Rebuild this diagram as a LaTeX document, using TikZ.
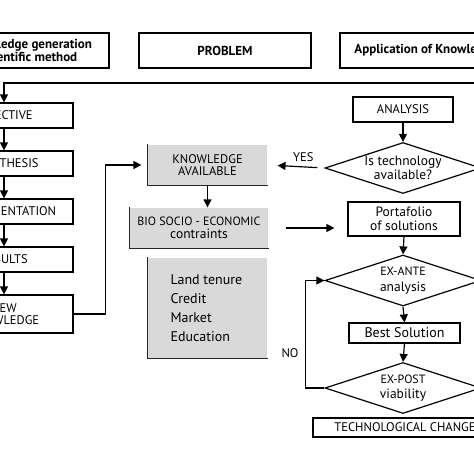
\documentclass[tikz,border=0pt]{standalone}
\usepackage{fontspec}
\setmainfont{PT Sans}
\usetikzlibrary{shapes.geometric,arrows.meta}

\tikzset{
    box/.style={draw,line width=1.2pt,align=center,inner sep=0pt},
    graybox/.style={fill=gray!30,align=center,inner sep=0pt},
    dmd/.style={draw,diamond,line width=1.2pt,inner sep=0pt,minimum width=156pt,minimum height=51pt},
    txt/.style={align=center,inner sep=0pt}
}

\begin{document}
\begin{tikzpicture}[x=1pt,y=-1pt,>={Triangle[length=8pt,width=8pt]},line width=1.2pt]
    \useasboundingbox (0,0) rectangle (474,474);
    % header
    \node [box,minimum width=160pt,minimum height=35pt,font=\bfseries\fontsize{13}{12}\selectfont] (gen) at (29,50.5) {Knowledge generation\\Scientific method};
    \node [box,minimum width=172pt,minimum height=35pt,font=\bfseries\fontsize{13}{12}\selectfont] (prob) at (225,50.5) {PROBLEM};
    \node [box,minimum width=172pt,minimum height=35pt,font=\bfseries\fontsize{13}{12}\selectfont] (appl) at (426,50.5) {Application of Knowledge};
    \coordinate (topR) at (480,83);
    % scientific method
    \node [box,minimum width=138pt,minimum height=25pt,font=\fontsize{12.5}{12}\selectfont] (obj) at (4,115.5) {OBJECTIVE};
    \node [box,minimum width=138pt,minimum height=25pt,font=\fontsize{12.5}{12}\selectfont] (hyp) at (4,163.5) {HYPOTHESIS};
    \node [box,minimum width=138pt,minimum height=25pt,font=\fontsize{12.5}{12}\selectfont] (exper) at (4,211.5) {EXPERIMENTATION};
    \node [box,minimum width=138pt,minimum height=25pt,font=\fontsize{12.5}{12}\selectfont] (res) at (4,259.5) {RESULTS};
    \node [box,minimum width=138pt,minimum height=38pt,font=\fontsize{12.5}{12.5}\selectfont] (newk) at (4,314) {NEW\\KNOWLEDGE};
    \draw [->] (topR) -| (obj.north);
    \foreach \a/\b in {obj/hyp,hyp/exper,exper/res,res/newk} { \draw [->] (\a.south) -- (\b.north); }
    % knowledge and constraints
    \node [graybox,minimum width=119pt,minimum height=40pt,font=\fontsize{12.5}{11.5}\selectfont] (know) at (207.5,165) {KNOWLEDGE\\AVAILABLE};
    \node [graybox,minimum width=138pt,minimum height=40pt,font=\fontsize{12}{13}\selectfont] (bio) at (199,228) {BIO SOCIO - ECONOMIC\\{\fontsize{13.5}{13}\selectfont contraints}};
    \node [graybox,minimum width=119pt,minimum height=100pt] (cons) at (207.5,308) {};
    \node [txt,anchor=west,align=left,font=\fontsize{14}{19}\selectfont] (list) at (170,308.5) {Land tenure\\Credit\\Market\\Education};
    \foreach \g in {know,bio,cons} { \draw [line width=1pt,gray!30!black] (\g.north west) |- (\g.south east); }
    \draw [->] (newk.east) -- ++(32,0) |- ([xshift=-6pt]know.west);
    \draw [->] (know.south) -- (know.south |- bio.north);
    % application
    \node [box,minimum width=100pt,minimum height=25pt,font=\fontsize{12.5}{12}\selectfont] (anal) at (403,109.5) {ANALYSIS};
    \node [dmd] (tech) at (403,168) {};
    \node [txt,font=\fontsize{13.5}{13.5}\selectfont] at (tech) {Is technology\\available?};
    \node [box,minimum width=112pt,minimum height=34pt,font=\fontsize{13.5}{13.5}\selectfont] (port) at (404,219) {Portafolio\\of solutions};
    \node [dmd] (ante) at (403,280.5) {};
    \node [txt,font=\fontsize{12}{16}\selectfont] at (ante) {EX-ANTE\\{\fontsize{13.5}{13}\selectfont analysis}};
    \node [box,minimum width=111pt,minimum height=20pt,font=\fontsize{14}{13}\selectfont] (best) at (404.5,333) {Best Solution};
    \node [dmd] (post) at (403,388) {};
    \node [txt,font=\fontsize{12}{15}\selectfont] at (post) {EX-POST\\{\fontsize{13.5}{13}\selectfont viability}};
    \node [box,minimum width=184pt,minimum height=19pt,font=\fontsize{12.5}{11}\selectfont] (tchange) at (405,427.5) {TECHNOLOGICAL CHANGE};
    \draw [->] (anal.south) -- (tech.north);
    \draw [->,shorten <=7pt,shorten >=10pt] (tech.west) -- node [pos=0.37,above=1pt,font=\fontsize{12.5}{12}\selectfont] {YES} (know.east);
    \draw [->,shorten <=17pt,shorten >=13pt] (bio.east) -- (bio.east -| port.west);
    \draw [->] (port.south) -- (ante.north);
    \draw [->] (ante.south) -- (best.north);
    \draw [->] (best.south) -- (post.north);
    \draw [->] (post.west) -- ++(-19,0) |- node [pos=0.16,left=3pt,font=\fontsize{12.5}{12}\selectfont] {NO} (ante.west);
\end{tikzpicture}
\end{document}
